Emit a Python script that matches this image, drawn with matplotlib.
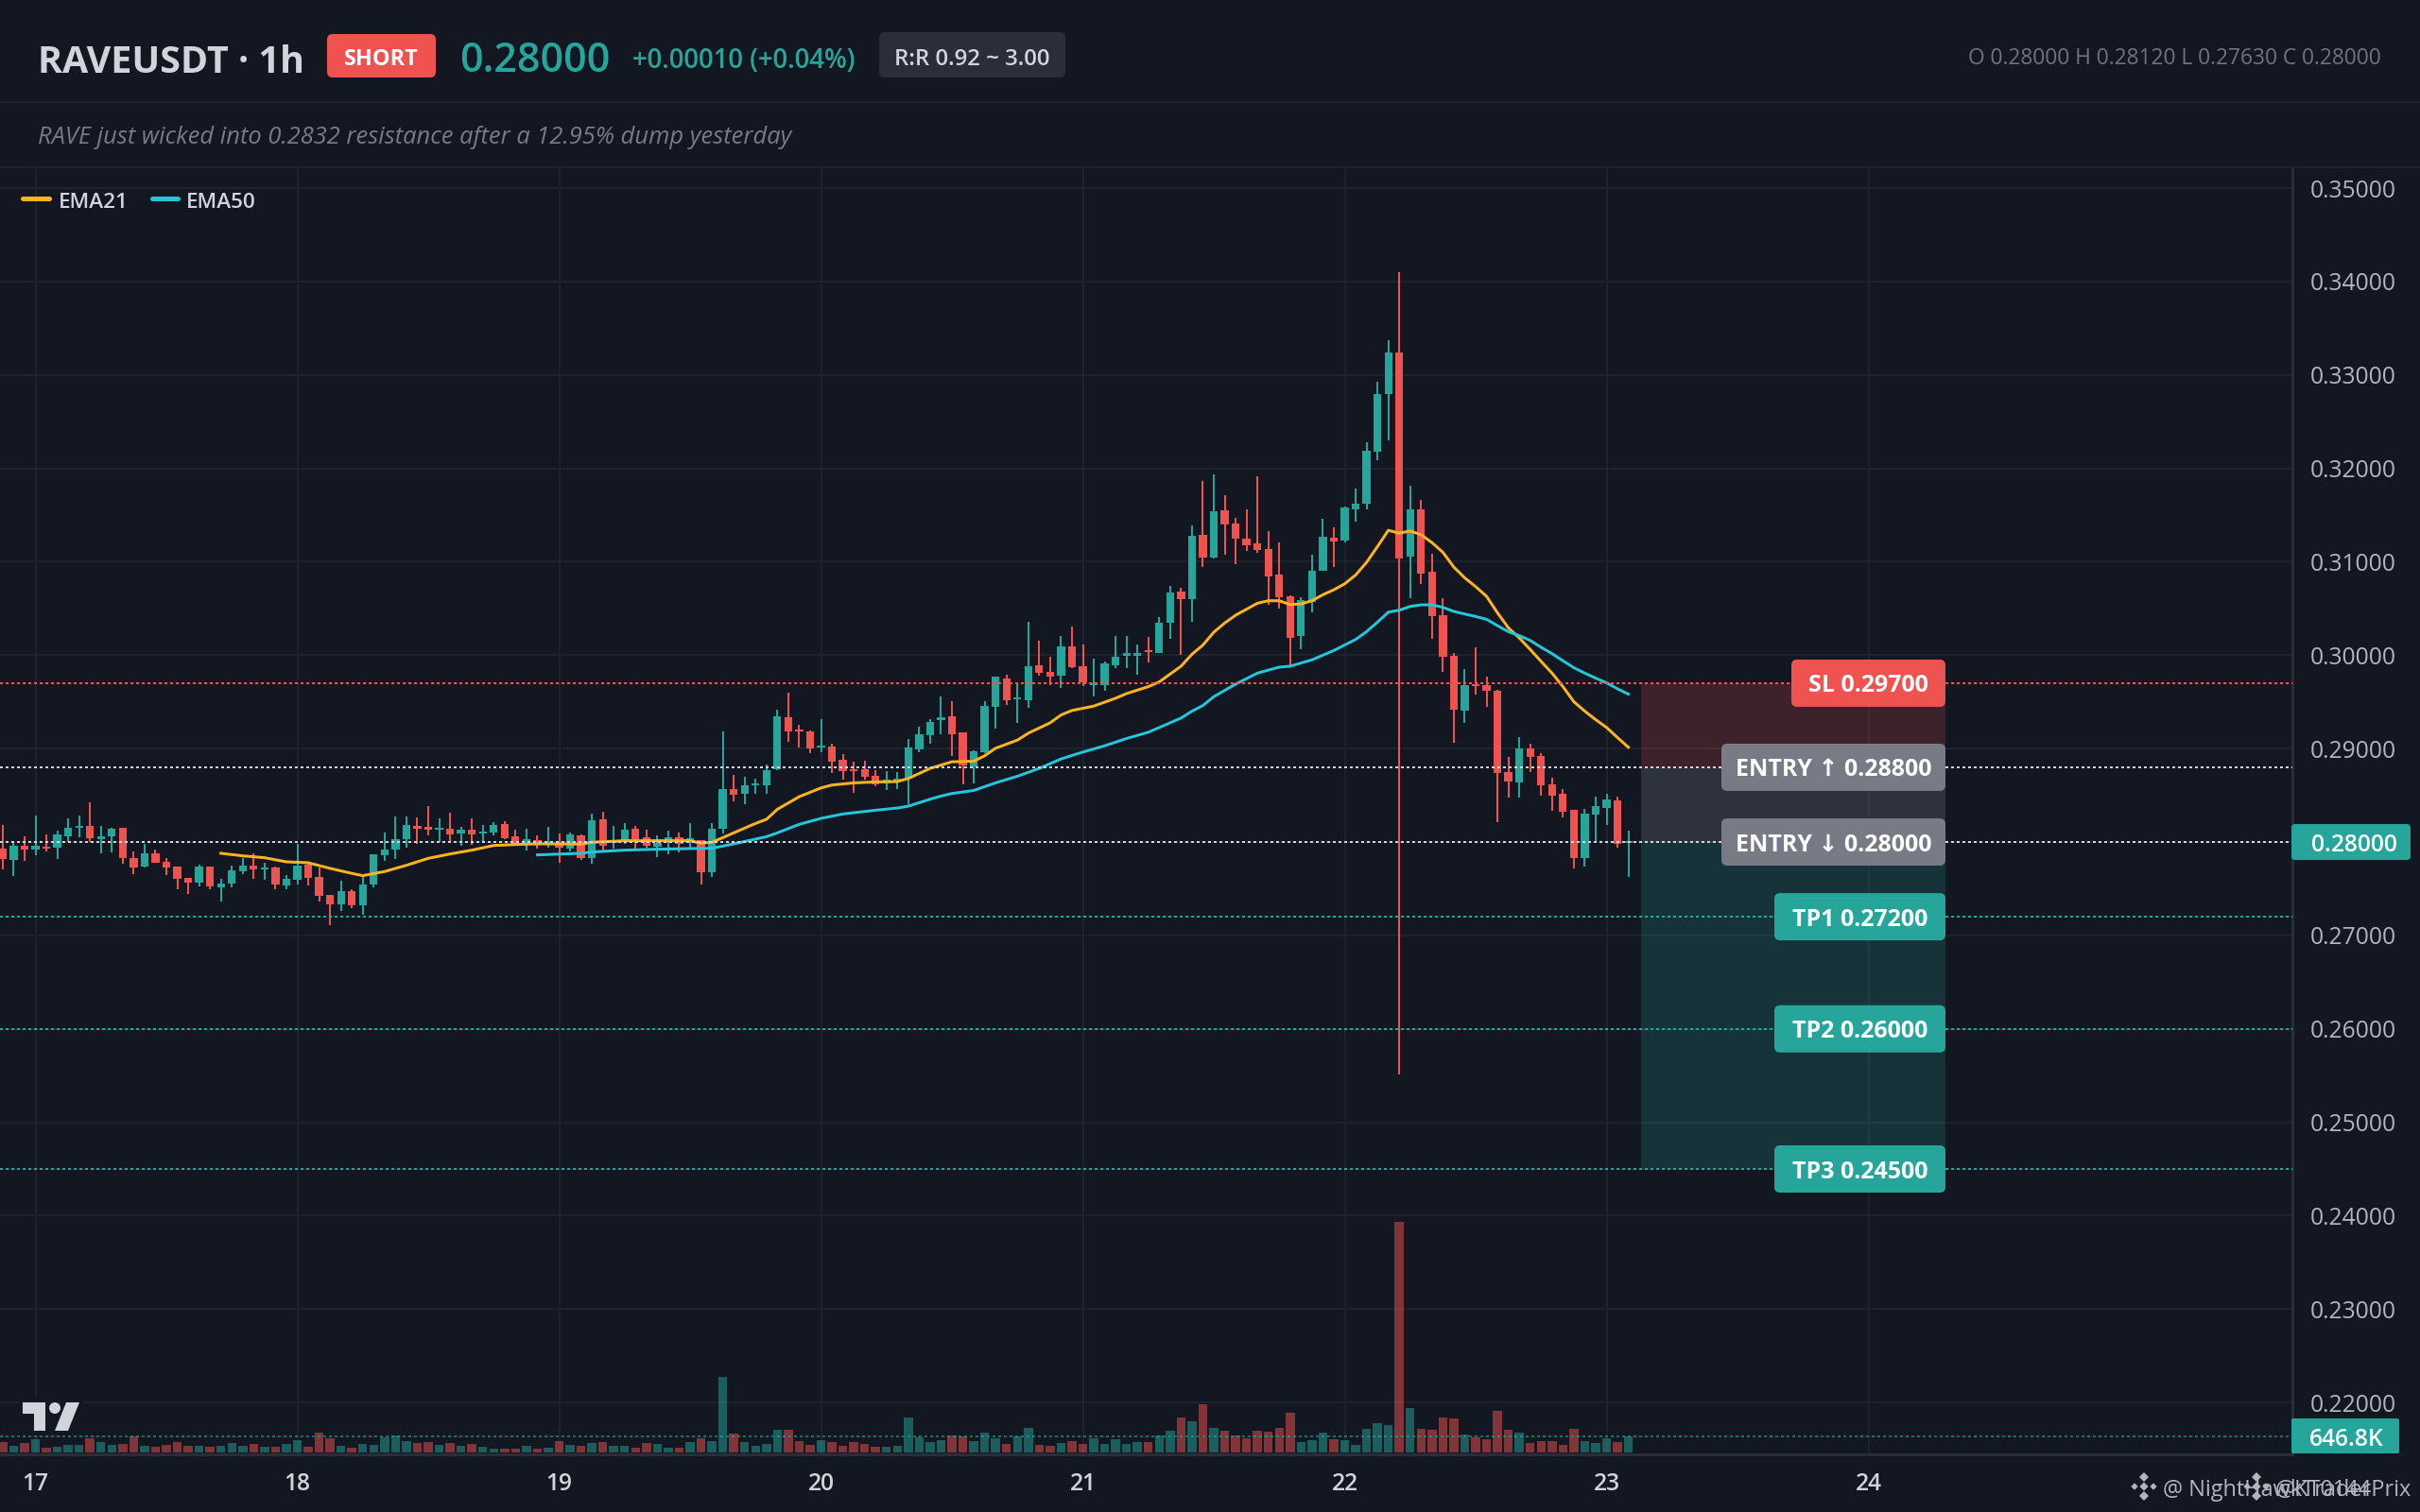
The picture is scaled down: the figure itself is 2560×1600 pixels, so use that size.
import matplotlib
matplotlib.use("Agg")
import matplotlib.pyplot as plt
from matplotlib.patches import FancyBboxPatch, Polygon, Ellipse, Rectangle

# hourly candles, first bar is 21:00 on the 16th
opens = [0.27933, 0.27812, 0.27963, 0.27923, 0.27953, 0.27943, 0.28064, 0.28155, 0.28175, 0.28034,
         0.28064, 0.28155, 0.27832, 0.27738, 0.27883, 0.27792, 0.27741, 0.27620, 0.27569, 0.27741,
         0.27519, 0.27559, 0.27691, 0.27751, 0.27711, 0.27731, 0.27539, 0.27600, 0.27761, 0.27630,
         0.27438, 0.27337, 0.27478, 0.27327, 0.27549, 0.27862, 0.27923, 0.28034, 0.28175, 0.28165,
         0.28135, 0.28145, 0.28095, 0.28135, 0.28095, 0.28105, 0.28196, 0.28064, 0.27994, 0.28024,
         0.27984, 0.27984, 0.27933, 0.28074, 0.27832, 0.28246, 0.27994, 0.28014, 0.28145, 0.28054,
         0.27953, 0.27994, 0.28054, 0.28014, 0.28024, 0.27681, 0.28145, 0.28569, 0.28519, 0.28610,
         0.28610, 0.28781, 0.29337, 0.29206, 0.29185, 0.29014, 0.29024, 0.28882, 0.28781, 0.28781,
         0.28711, 0.28630, 0.28660, 0.28690, 0.28993, 0.29145, 0.29306, 0.29347, 0.29175, 0.28812,
         0.28963, 0.29448, 0.29751, 0.29529, 0.29519, 0.29892, 0.29822, 0.29781, 0.30094, 0.29882,
         0.29680, 0.29680, 0.29892, 0.29993, 0.29993, 0.30054, 0.30024, 0.30347, 0.30680, 0.30600,
         0.31286, 0.31044, 0.31549, 0.31408, 0.31246, 0.31195, 0.31135, 0.30862, 0.30630, 0.30206,
         0.30569, 0.30902, 0.31256, 0.31225, 0.31559, 0.31619, 0.32175, 0.32791, 0.33236, 0.31054,
         0.31559, 0.30892, 0.30428, 0.29994, 0.29408, 0.29691, 0.29680, 0.29620, 0.28751, 0.28640,
         0.29004, 0.28923, 0.28620, 0.28519, 0.28347, 0.27832, 0.28297, 0.28367, 0.28448, 0.27990]
highs = [0.28182, 0.27997, 0.28064, 0.28283, 0.28085, 0.28125, 0.28256, 0.28287, 0.28428, 0.28175,
         0.28155, 0.28155, 0.27903, 0.27984, 0.27923, 0.27829, 0.27741, 0.27620, 0.27761, 0.27741,
         0.27610, 0.27751, 0.27829, 0.27883, 0.27778, 0.27741, 0.27650, 0.27984, 0.27792, 0.27731,
         0.27438, 0.27590, 0.27499, 0.27630, 0.27872, 0.28101, 0.28276, 0.28276, 0.28266, 0.28388,
         0.28256, 0.28317, 0.28162, 0.28256, 0.28186, 0.28216, 0.28226, 0.28135, 0.28145, 0.28074,
         0.28165, 0.28095, 0.28101, 0.28085, 0.28307, 0.28327, 0.28175, 0.28206, 0.28175, 0.28135,
         0.28074, 0.28125, 0.28101, 0.28206, 0.28024, 0.28206, 0.29186, 0.28721, 0.28701, 0.28680,
         0.28832, 0.29418, 0.29600, 0.29256, 0.29195, 0.29317, 0.29054, 0.28943, 0.28862, 0.28872,
         0.28771, 0.28761, 0.28751, 0.29105, 0.29236, 0.29317, 0.29559, 0.29509, 0.29175, 0.28983,
         0.29509, 0.29771, 0.29791, 0.29701, 0.30357, 0.30155, 0.29983, 0.30206, 0.30307, 0.30115,
         0.29963, 0.29933, 0.30206, 0.30206, 0.30115, 0.30195, 0.30408, 0.30741, 0.30721, 0.31387,
         0.31862, 0.31936, 0.31711, 0.31468, 0.31559, 0.31913, 0.31327, 0.31206, 0.30640, 0.30620,
         0.31074, 0.31458, 0.31367, 0.31589, 0.31781, 0.32276, 0.32922, 0.33367, 0.34104, 0.31811,
         0.31660, 0.31084, 0.30609, 0.30024, 0.29852, 0.30084, 0.29771, 0.29630, 0.28913, 0.29125,
         0.29054, 0.28953, 0.28691, 0.28569, 0.28347, 0.28357, 0.28488, 0.28519, 0.28488, 0.28120]
lows = [0.27711, 0.27640, 0.27802, 0.27862, 0.27903, 0.27822, 0.28004, 0.28054, 0.28004, 0.27883,
        0.27893, 0.27771, 0.27660, 0.27731, 0.27781, 0.27650, 0.27499, 0.27448, 0.27529, 0.27499,
        0.27367, 0.27519, 0.27660, 0.27610, 0.27600, 0.27499, 0.27499, 0.27549, 0.27539, 0.27367,
        0.27115, 0.27266, 0.27297, 0.27226, 0.27519, 0.27802, 0.27822, 0.27943, 0.27984, 0.28074,
        0.28004, 0.28014, 0.27963, 0.27973, 0.28004, 0.28074, 0.28034, 0.27973, 0.27913, 0.27933,
        0.27943, 0.27781, 0.27903, 0.27812, 0.27771, 0.27913, 0.27933, 0.27980, 0.27933, 0.27943,
        0.27842, 0.27872, 0.27893, 0.27943, 0.27549, 0.27630, 0.28095, 0.28438, 0.28408, 0.28519,
        0.28519, 0.28771, 0.29074, 0.29014, 0.28953, 0.28963, 0.28741, 0.28670, 0.28529, 0.28670,
        0.28600, 0.28559, 0.28569, 0.28408, 0.28963, 0.29054, 0.29155, 0.28923, 0.28620, 0.28630,
        0.28953, 0.29216, 0.29468, 0.29276, 0.29438, 0.29781, 0.29680, 0.29650, 0.29862, 0.29670,
        0.29559, 0.29620, 0.29862, 0.29862, 0.29791, 0.29923, 0.30024, 0.30175, 0.30004, 0.30357,
        0.30943, 0.31034, 0.31074, 0.30973, 0.31115, 0.31094, 0.30539, 0.30498, 0.29892, 0.30064,
        0.30458, 0.30902, 0.30943, 0.31205, 0.31427, 0.31559, 0.32084, 0.32296, 0.25508, 0.30609,
        0.30761, 0.30175, 0.29822, 0.29064, 0.29276, 0.29579, 0.29448, 0.28216, 0.28478, 0.28478,
        0.28751, 0.28499, 0.28337, 0.28266, 0.27721, 0.27741, 0.28014, 0.28185, 0.27943, 0.27630]
closes = [0.27822, 0.27963, 0.27923, 0.27963, 0.27933, 0.28085, 0.28155, 0.28169, 0.28044, 0.28064,
          0.28145, 0.27832, 0.27731, 0.27883, 0.27781, 0.27731, 0.27610, 0.27569, 0.27741, 0.27529,
          0.27559, 0.27701, 0.27751, 0.27711, 0.27731, 0.27549, 0.27610, 0.27751, 0.27620, 0.27428,
          0.27337, 0.27478, 0.27327, 0.27549, 0.27872, 0.27923, 0.28034, 0.28186, 0.28145, 0.28135,
          0.28149, 0.28085, 0.28135, 0.28085, 0.28115, 0.28186, 0.28044, 0.27984, 0.28034, 0.27973,
          0.28004, 0.27943, 0.28085, 0.27832, 0.28236, 0.27963, 0.28004, 0.28135, 0.28034, 0.27963,
          0.27994, 0.28054, 0.27984, 0.28044, 0.27681, 0.28145, 0.28569, 0.28509, 0.28610, 0.28630,
          0.28771, 0.29347, 0.29185, 0.29185, 0.29004, 0.29034, 0.28862, 0.28761, 0.28761, 0.28700,
          0.28620, 0.28670, 0.28680, 0.29014, 0.29155, 0.29286, 0.29337, 0.29155, 0.28822, 0.28973,
          0.29458, 0.29771, 0.29519, 0.29549, 0.29882, 0.29812, 0.29771, 0.30094, 0.29872, 0.29711,
          0.29701, 0.29913, 0.29983, 0.30024, 0.30024, 0.30034, 0.30347, 0.30670, 0.30600, 0.31276,
          0.31044, 0.31539, 0.31397, 0.31246, 0.31175, 0.31125, 0.30842, 0.30620, 0.30185, 0.30589,
          0.30902, 0.31266, 0.31215, 0.31579, 0.31619, 0.32185, 0.32791, 0.33236, 0.31034, 0.31559,
          0.30872, 0.30417, 0.29983, 0.29418, 0.29680, 0.29670, 0.29620, 0.28741, 0.28650, 0.29004,
          0.28913, 0.28610, 0.28499, 0.28327, 0.27832, 0.28307, 0.28387, 0.28458, 0.27983, 0.28000]
# volume in thousands
volumes = [418, 266, 380, 533, 190, 228, 304, 304, 571, 418,
           304, 342, 647, 266, 228, 304, 418, 266, 266, 228,
           266, 380, 266, 342, 228, 228, 342, 495, 228, 799,
           571, 266, 190, 342, 304, 609, 685, 456, 380, 418,
           304, 380, 266, 342, 228, 152, 152, 152, 266, 152,
           190, 456, 304, 266, 380, 418, 266, 266, 190, 380,
           342, 190, 190, 418, 571, 456, 3043, 761, 418, 266,
           342, 913, 913, 456, 304, 495, 418, 266, 418, 342,
           228, 228, 266, 1407, 609, 418, 495, 685, 647, 456,
           799, 571, 342, 647, 989, 304, 266, 380, 456, 342,
           571, 342, 533, 342, 418, 418, 685, 875, 1407, 1255,
           1940, 989, 875, 685, 571, 875, 837, 989, 1598, 418,
           495, 799, 533, 495, 304, 951, 1179, 1103, 9282, 1788,
           951, 913, 1407, 1369, 723, 609, 533, 1674, 913, 799,
           380, 456, 456, 304, 951, 456, 380, 571, 418, 647]

ema21_bars = [17, 19, 21, 23, 25, 27, 29, 30, 32, 34, 36, 38, 40, 42, 44, 46, 48, 50, 51, 54, 57, 60, 61, 62,
              63, 64, 66, 67, 68, 70, 72, 73, 75, 77, 79, 80, 82, 84, 86, 87, 88, 90, 91, 93, 94, 95, 97, 99,
              100, 102, 103, 105, 106, 107, 108, 109, 110, 112, 113, 114, 115, 116, 117, 118, 119, 120, 121,
              122, 123, 124, 125, 126, 127, 128, 129, 130, 131, 132, 133, 134, 135, 136, 137, 138, 139, 140,
              141, 142, 143, 144, 145, 146]
ema21 = [0.27879, 0.27852, 0.27832, 0.27788, 0.27778, 0.27718, 0.27664, 0.27640, 0.27684, 0.27751, 0.27825, 0.27872,
         0.27913, 0.27963, 0.27973, 0.27980, 0.27980, 0.27977, 0.27997, 0.28014, 0.28014, 0.28014, 0.27987, 0.27997,
         0.28047, 0.28098, 0.28199, 0.28243, 0.28350, 0.28485, 0.28579, 0.28610, 0.28633, 0.28643, 0.28647, 0.28680,
         0.28788, 0.28859, 0.28865, 0.28923, 0.29004, 0.29091, 0.29165, 0.29276, 0.29360, 0.29408, 0.29455, 0.29539,
         0.29589, 0.29663, 0.29714, 0.29882, 0.30010, 0.30108, 0.30246, 0.30344, 0.30428, 0.30556, 0.30583, 0.30583,
         0.30542, 0.30549, 0.30583, 0.30647, 0.30700, 0.30764, 0.30858, 0.30993, 0.31162, 0.31337, 0.31306, 0.31330,
         0.31290, 0.31205, 0.31101, 0.30943, 0.30828, 0.30734, 0.30630, 0.30454, 0.30293, 0.30185, 0.30061, 0.29933,
         0.29808, 0.29664, 0.29502, 0.29401, 0.29310, 0.29226, 0.29118, 0.29014]
ema50_bars = [46, 50, 51, 54, 57, 60, 62, 64, 66, 67, 68, 70, 72, 74, 77, 79, 80, 82, 83, 84, 86, 88, 90, 92, 94,
              96, 98, 100, 102, 104, 105, 106, 107, 108, 110, 112, 114, 115, 117, 118, 119, 121, 122, 123, 124,
              125, 126, 127, 128, 129, 130, 131, 132, 133, 134, 135, 136, 137, 138, 139, 140, 141, 142, 143,
              144, 145, 146]
ema50 = [0.27862, 0.27879, 0.27893, 0.27913, 0.27923, 0.27930, 0.27933, 0.27980, 0.28031, 0.28057, 0.28098, 0.28189,
         0.28253, 0.28300, 0.28340, 0.28364, 0.28384, 0.28458, 0.28492, 0.28519, 0.28552, 0.28633, 0.28704, 0.28788,
         0.28889, 0.28963, 0.29030, 0.29108, 0.29175, 0.29276, 0.29327, 0.29401, 0.29461, 0.29556, 0.29690, 0.29808,
         0.29872, 0.29882, 0.29950, 0.30000, 0.30050, 0.30168, 0.30252, 0.30353, 0.30461, 0.30481, 0.30522, 0.30539,
         0.30539, 0.30512, 0.30468, 0.30441, 0.30414, 0.30384, 0.30316, 0.30252, 0.30209, 0.30158, 0.30084, 0.30017,
         0.29940, 0.29866, 0.29808, 0.29754, 0.29704, 0.29640, 0.29583]

first_bar = -3
day_labels = ["17", "18", "19", "20", "21", "22", "23", "24"]
price_ticks = [0.35, 0.34, 0.33, 0.32, 0.31, 0.30, 0.29, 0.28, 0.27, 0.26, 0.25, 0.24, 0.23, 0.22]

sl_price = 0.297
entry_high = 0.288
entry_low = 0.280
tp_prices = [0.272, 0.260, 0.245]
last_volume = 646.8
zone_start = 147.2
zone_end = 175.1

BG = "#131722"
GRID = "#1e222d"
LINE = "#2a2e39"
UP = "#26a69a"
DOWN = "#ef5350"
TEXT = "#d1d4dc"
GREY = "#787b86"
FONT = ["Open Sans", "DejaVu Sans"]

plt.rcParams["font.family"] = FONT
fig = plt.figure(figsize=(25.6, 16), dpi=100, facecolor=BG)
W, H = 2560, 1600
rect = [0, (H - 1539) / H, 2425 / W, (1539 - 178) / H]
px_per_bar = 277 / 24


def px(n):
    return n * 72 / 100


ax = fig.add_axes(rect, facecolor=BG, zorder=1)
ax.set_xlim(-37.5 / px_per_bar, (2425 - 37.5) / px_per_bar)
ax.set_ylim(0.21445, 0.35213)
ax.yaxis.tick_right()
ax.set_yticks(price_ticks, [f"{p:.5f}" for p in price_ticks])
ax.set_xticks([i * 24 for i in range(len(day_labels))], day_labels, fontweight="semibold")
ax.tick_params(axis="y", length=0, pad=px(19), labelsize=px(24.6), labelcolor="#b2b5be")
ax.tick_params(axis="x", length=0, pad=px(19), labelsize=px(24.6), labelcolor=TEXT)
ax.grid(True, color=GRID, linewidth=px(2))
ax.set_axisbelow(True)
for side in ("top", "left"):
    ax.spines[side].set_visible(False)
for side in ("right", "bottom"):
    ax.spines[side].set_color(LINE)
    ax.spines[side].set_linewidth(px(3))

# risk / reward zones
ax.add_patch(Rectangle((zone_start, entry_high), zone_end - zone_start, sl_price - entry_high, color=DOWN, alpha=0.2, lw=0, zorder=1.5))
ax.add_patch(Rectangle((zone_start, entry_low), zone_end - zone_start, entry_high - entry_low, color=GREY, alpha=0.27, lw=0, zorder=1.5))
ax.add_patch(Rectangle((zone_start, tp_prices[2]), zone_end - zone_start, entry_low - tp_prices[2], color=UP, alpha=0.2, lw=0, zorder=1.5))

# candles
bars = list(range(first_bar, first_bar + len(opens)))
colors = [UP if c >= o else DOWN for o, c in zip(opens, closes)]
ax.vlines(bars, lows, highs, colors=colors, linewidth=px(2), zorder=3)
tops = [max(o, c) for o, c in zip(opens, closes)]
bots = [min(o, c) for o, c in zip(opens, closes)]
body = [max(t - b, 0.0002) for t, b in zip(tops, bots)]
ax.bar(bars, body, bottom=bots, width=0.72, color=colors, linewidth=0, zorder=3)

ax.plot(ema21_bars, ema21, color="#ffb41f", linewidth=px(3), zorder=4, solid_joinstyle="round")
ax.plot(ema50_bars, ema50, color="#26c6da", linewidth=px(3), zorder=4, solid_joinstyle="round")

dots = (0, (1.5, 1.5))
ax.axhline(sl_price, color=DOWN, linewidth=px(2), linestyle=dots, zorder=5)
ax.axhline(entry_high, color=TEXT, linewidth=px(2), linestyle=dots, zorder=5)
ax.axhline(entry_low, color=TEXT, linewidth=px(2), linestyle=dots, zorder=5)
for p in tp_prices:
    ax.axhline(p, color=UP, linewidth=px(2), linestyle=dots, zorder=5)

# volume pane sits on the same x scale
vol = fig.add_axes(rect, zorder=2, sharex=ax)
vol.patch.set_visible(False)
vol.set_ylim(-76, 51696)
vol.axis("off")
vol.bar(bars, volumes, width=0.82, color=colors, alpha=0.5, linewidth=0)
vol.axhline(last_volume, color=UP, alpha=0.6, linewidth=px(2), linestyle=dots)

# header, labels and the rest of the page in pixels
ui = fig.add_axes([0, 0, 1, 1], zorder=3)
ui.set_xlim(0, W)
ui.set_ylim(H, 0)
ui.axis("off")


def pill(x0, y0, x1, y1, color, r=6, z=6):
    ui.add_patch(FancyBboxPatch((x0 + r, y0 + r), x1 - x0 - 2 * r, y1 - y0 - 2 * r,
                                boxstyle=f"round,pad={r},rounding_size={r}",
                                facecolor=color, edgecolor="none", zorder=z))


def label(x, y, s, size, color, ha="left", weight="normal", **kw):
    ui.text(x, y, s, fontsize=px(size), color=color, ha=ha, va="center_baseline",
            fontweight=weight, zorder=7, **kw)


def price_y(p):
    return ui.transData.inverted().transform(ax.transData.transform((0, p)))[1]


ui.plot([0, W], [108, 108], color=GRID, linewidth=px(2))
ui.plot([0, W], [177, 177], color=GRID, linewidth=px(2))

label(40, 62, "RAVEUSDT · 1h", 39.5, TEXT, weight="bold")
pill(346, 36, 461, 82, DOWN)
label(403, 60, "SHORT", 23.5, "white", ha="center", weight="bold")
label(486, 60, "0.28000", 43, UP, weight="semibold")
label(669, 61, "+0.00010 (+0.04%)", 27.5, UP, weight="semibold")
pill(930, 34, 1127, 82, LINE)
label(1028, 60, "R:R 0.92 ~ 3.00", 24, TEXT, ha="center", weight="semibold")
label(2519, 59, "O 0.28000 H 0.28120 L 0.27630 C 0.28000", 22.7, "#70737e", ha="right")
label(40, 142, "RAVE just wicked into 0.2832 resistance after a 12.95% dump yesterday", 25.5, GREY,
      style="italic")

ui.plot([24, 52], [210, 210], color="#ffb41f", linewidth=px(5), solid_capstyle="round")
label(62, 212, "EMA21", 22.5, TEXT, weight="semibold")
ui.plot([161, 188], [210, 210], color="#26c6da", linewidth=px(5), solid_capstyle="round")
label(197, 212, "EMA50", 22.5, TEXT, weight="semibold")

# level tags at the right edge of the zones
tag_right = 2058
tags = [(1895, DOWN, f"SL {sl_price:.5f}", sl_price),
        (1821, GREY, f"ENTRY ↑ {entry_high:.5f}", entry_high),
        (1821, GREY, f"ENTRY ↓ {entry_low:.5f}", entry_low)]
for n, p in enumerate(tp_prices):
    tags.append((1877, UP, f"TP{n + 1} {p:.5f}", p))
for left, color, s, p in tags:
    yc = price_y(p)
    pill(left, yc - 25, tag_right, yc + 25, color)
    label((left + tag_right) / 2, yc, s, 25, "white", ha="center", weight="bold")

# axis value tags
yc = price_y(entry_low)
pill(2424, yc - 19, 2550, yc + 19, UP, r=4)
label(2490, yc, "0.28000", 24.6, "white", ha="center", weight="semibold")
pill(2424, 1501, 2538, 1538, UP, r=2)
label(2482, 1520, f"{last_volume}K", 24.6, "white", ha="center", weight="semibold")

# logo
ui.add_patch(Rectangle((20, 1479), 68, 40, facecolor=BG, edgecolor="none", zorder=6))
ui.add_patch(Polygon([(24, 1484), (48, 1484), (48, 1514), (36, 1514), (36, 1496), (24, 1496)], facecolor=TEXT, edgecolor="none", zorder=7))
ui.add_patch(Ellipse((58, 1490), 12, 12, facecolor=TEXT, edgecolor="none", zorder=7))
ui.add_patch(Polygon([(70, 1484), (84, 1484), (72, 1514), (58, 1514)], facecolor=TEXT, edgecolor="none", zorder=7))

# overlapping watermarks
for x, s in ((2268, "@ NightHawkTrader"), (2387, "@KT0144Prix")):
    ui.scatter([x, x - 10, x + 10, x, x], [1573, 1573, 1573, 1563, 1583], marker="D",
               s=[22, 14, 14, 26, 26], color="#b2b5be", linewidths=0, zorder=7)
    label(x + 20, 1574, s, 23.5, "#b2b5be")

fig.savefig("out.png", dpi=100, facecolor=BG)
